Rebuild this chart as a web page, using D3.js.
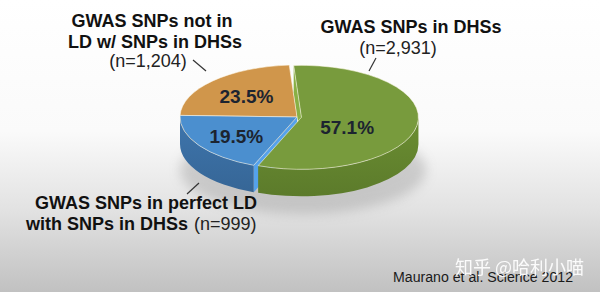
<!DOCTYPE html>
<html>
<head>
<meta charset="utf-8">
<script src="https://d3js.org/d3.v7.min.js"></script>
<style>
  html, body { margin: 0; padding: 0; background: #fff; }
  svg { display: block; }
</style>
</head>
<body>
<script>
// slice data, clockwise from the top
const categories = ["GWAS SNPs in DHSs", "GWAS SNPs in perfect LD with SNPs in DHSs", "GWAS SNPs not in LD w/ SNPs in DHSs"];
const counts = [2931, 999, 1204];
const percents = ["57.1%", "19.5%", "23.5%"];
const countLabels = ["(n=2,931)", "(n=999)", "(n=1,204)"];
const topColors = ["#789b3d", "#4b8fcf", "#d0964b"];
const sideColors = ["#65872f", "#3b6f a4".replace(" ", ""), "#b07a34"];

const width = 600, height = 292;
const cx = 297, cy = 117, rx = 117, ry = 52, depth = 27;
const startDeg = -3.8;

const svg = d3.select("body").append("svg")
    .attr("width", width)
    .attr("height", height)
    .style("font-family", "'Liberation Sans', Arial, sans-serif");

const defs = svg.append("defs");
const bg = defs.append("linearGradient").attr("id", "bg")
    .attr("x1", 0).attr("y1", 0).attr("x2", 0).attr("y2", 1);
bg.append("stop").attr("offset", "0").attr("stop-color", "#ffffff");
bg.append("stop").attr("offset", "0.45").attr("stop-color", "#fafafa");
bg.append("stop").attr("offset", "0.72").attr("stop-color", "#e2e2e2");
bg.append("stop").attr("offset", "1").attr("stop-color", "#c1c1c1");

defs.append("filter").attr("id", "blur")
    .attr("x", "-30%").attr("y", "-60%").attr("width", "160%").attr("height", "220%")
    .append("feGaussianBlur").attr("stdDeviation", 6);

sideColors.forEach(function (c, i) {
    var g = defs.append("linearGradient").attr("id", "side" + i)
        .attr("x1", 0).attr("y1", 0).attr("x2", 0).attr("y2", 1);
    g.append("stop").attr("offset", "0").attr("stop-color", d3.color(c).brighter(0.15));
    g.append("stop").attr("offset", "1").attr("stop-color", d3.color(c).darker(0.25));
});

svg.append("rect").attr("width", width).attr("height", height).attr("fill", "url(#bg)");

// soft shadow under the pie
svg.append("ellipse")
    .attr("cx", cx + 6).attr("cy", cy + depth + 26)
    .attr("rx", rx + 6).attr("ry", ry - 8)
    .attr("fill", "#8a8a8a").attr("opacity", 0.35)
    .attr("filter", "url(#blur)");

const toRad = d3.scaleLinear().domain([0, 360]).range([0, 2 * Math.PI]);
const pie = d3.pie().sort(null)
    .startAngle(toRad(startDeg))
    .endAngle(toRad(startDeg + 360));
const arcs = pie(counts);

// green slice pulled out a little
const explode = [4.5, 0, 0];

function pt(a, off, dz) {
    return [cx + off[0] + rx * Math.sin(a), cy + off[1] - ry * Math.cos(a) + (dz || 0)];
}

function offsetOf(d, i) {
    var mid = (d.startAngle + d.endAngle) / 2;
    return [explode[i] * Math.sin(mid), -explode[i] * Math.cos(mid) * 0.5];
}

function arcTo(p, large, sweep) {
    return "A" + rx + "," + ry + " 0 " + large + " " + sweep + " " + p[0] + "," + p[1];
}

const slices = svg.selectAll("g.slice").data(arcs).enter().append("g").attr("class", "slice");

// draw back slice first, front-exploded slice last
const order = [2, 1, 0];
order.forEach(function (i) {
    var d = arcs[i], off = offsetOf(d, i), g = svg.append("g");
    var c0 = [cx + off[0], cy + off[1]];

    // radial faces that face the viewer
    [d.startAngle, d.endAngle].forEach(function (a, k) {
        var nx = k === 0 ? -Math.cos(a) : Math.cos(a);
        var ny = k === 0 ? -Math.sin(a) : Math.sin(a);
        if (ny > 0.05) {
            var p = pt(a, off), pb = pt(a, off, depth);
            g.append("path")
                .attr("d", "M" + c0 + "L" + p + "L" + pb + "L" + [c0[0], c0[1] + depth] + "Z")
                .attr("fill", d3.color(topColors[i]).brighter(0.35));
        }
    });

    // outer wall, front half only
    var lo = Math.max(d.startAngle, Math.PI / 2), hi = Math.min(d.endAngle, 3 * Math.PI / 2);
    if (hi > lo) {
        var large = hi - lo > Math.PI ? 1 : 0;
        var t0 = pt(lo, off), t1 = pt(hi, off), b0 = pt(lo, off, depth), b1 = pt(hi, off, depth);
        g.append("path")
            .attr("d", "M" + t0 + arcTo(t1, large, 1) + "L" + b1 + arcTo(b0, large, 0) + "Z")
            .attr("fill", "url(#side" + i + ")");
    }

    // top face
    var s = pt(d.startAngle, off), e = pt(d.endAngle, off);
    var largeTop = d.endAngle - d.startAngle > Math.PI ? 1 : 0;
    g.append("path")
        .attr("d", "M" + c0 + "L" + s + arcTo(e, largeTop, 1) + "Z")
        .attr("fill", topColors[i])
        .attr("stroke", "rgba(255,250,235,0.55)")
        .attr("stroke-width", 1);
});

// percentage labels
const labelFrac = [0.43, 0.62, 0.6];
const labelDy = [9, 8, 8];
arcs.forEach(function (d, i) {
    var mid = (d.startAngle + d.endAngle) / 2, off = offsetOf(d, i);
    svg.append("text")
        .attr("x", cx + off[0] + rx * labelFrac[i] * Math.sin(mid) - (i === 0 ? 4 : 0))
        .attr("y", cy + off[1] - ry * labelFrac[i] * Math.cos(mid) + labelDy[i] + (i === 0 ? 4 : 0))
        .attr("text-anchor", "middle")
        .attr("font-size", 19).attr("font-weight", "bold")
        .attr("fill", "#1c2430")
        .text(percents[i]);
});

// callout labels
function bold(x, y, txt, anchor) {
    return svg.append("text").attr("x", x).attr("y", y)
        .attr("text-anchor", anchor || "middle")
        .attr("font-size", 18).attr("font-weight", "bold").attr("fill", "#111")
        .text(txt);
}
function plain(x, y, txt, anchor) {
    return svg.append("text").attr("x", x).attr("y", y)
        .attr("text-anchor", anchor || "middle")
        .attr("font-size", 18).attr("fill", "#222")
        .text(txt);
}

// green
bold(411, 33, categories[0]);
plain(398, 54, countLabels[0]);
// orange
bold(152, 27, "GWAS SNPs not in");
bold(155, 48, "LD w/ SNPs in DHSs");
plain(148, 67, countLabels[2]);
// blue
bold(146, 209, "GWAS SNPs in perfect LD");
bold(26, 230, "with SNPs in DHSs", "start");
plain(194, 230, countLabels[1], "start");

const leaders = [[[376, 58], [369, 71]], [[193, 60], [206, 71]], [[199, 183], [187, 194]]];
leaders.forEach(function (l) {
    svg.append("line")
        .attr("x1", l[0][0]).attr("y1", l[0][1])
        .attr("x2", l[1][0]).attr("y2", l[1][1])
        .attr("stroke", "#333").attr("stroke-width", 1.2);
});

// source and watermark
svg.append("text").attr("x", 393).attr("y", 282)
    .attr("font-size", 14).attr("fill", "#1a1a1a")
    .attr("textLength", 180).attr("lengthAdjust", "spacingAndGlyphs")
    .text("Maurano et al. Science 2012");
svg.append("text").attr("x", 455).attr("y", 274)
    .attr("font-family", "'Noto Sans CJK SC', sans-serif")
    .attr("font-size", 18).attr("fill", "#ffffff").attr("opacity", 0.92)
    .text("知乎 @哈利小喵");
</script>
</body>
</html>
